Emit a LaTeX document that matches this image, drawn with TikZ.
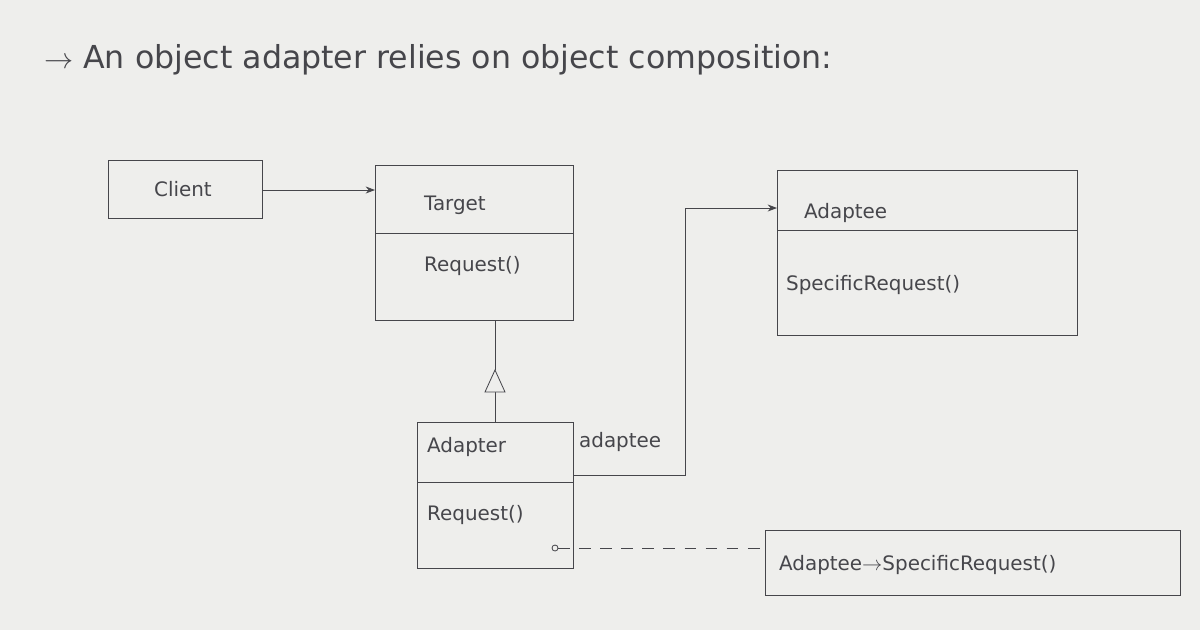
\documentclass[tikz,border=0pt]{standalone}
\usepackage{fontspec}
\setmainfont{DejaVu Sans}
\usetikzlibrary{arrows.meta}
\definecolor{paper}{RGB}{238,238,236}
\definecolor{ink}{RGB}{70,70,75}
\begin{document}
\begin{tikzpicture}[x=0.03cm,y=-0.03cm,
  box/.style={draw=ink,line width=0.8pt},
  lbl/.style={text=ink,font=\fontsize{17}{20}\selectfont,anchor=west},
  conn/.style={draw=ink,line width=0.7pt}]
\fill[paper] (0,0) rectangle (1200,630);
\useasboundingbox (0,0) rectangle (1200,630);
\node[lbl,font=\fontsize{27}{30}\selectfont] (title) at (40,60) {$\rightarrow$ An object adapter relies on object composition:};
% Client
\draw[box] (108,160) rectangle (262,218);
\node[lbl] (client) at (150,189) {Client};
\coordinate (clientR) at (262,190);
% Target
\draw[box] (375,165) rectangle (573,320);
\draw[box] (375,233) -- (573,233);
\node[lbl] (target) at (420,205) {Target};
\node[lbl] (treq) at (420,266) {Request()};
\coordinate (targetL) at (375,190);
\coordinate (targetB) at (495,320);
% Adaptee
\draw[box] (777,170) rectangle (1077,335);
\draw[box] (777,230) -- (1077,230);
\node[lbl] (adaptee) at (800,213) {Adaptee};
\node[lbl] (sreq) at (782,285) {SpecificRequest()};
\coordinate (adapteeL) at (777,208);
% Adapter
\draw[box] (417,422) rectangle (573,568);
\draw[box] (417,482) -- (573,482);
\node[lbl] (adapter) at (423,447) {Adapter};
\node[lbl] (areq) at (423,515) {Request()};
\coordinate (adapterT) at (495,422);
\coordinate (adapterR) at (573,475);
\coordinate (adapterN) at (555,548);
% Note
\draw[box] (765,530) rectangle (1180,595);
\node[lbl] (note) at (775,565) {Adaptee$\rightarrow$SpecificRequest()};
\coordinate (noteL) at (765,548);
% connectors
\draw[conn,-{Stealth[length=8pt]}] (clientR) -- (targetL);
\draw[conn] (adapterT) -- (495,392);
\draw[conn,fill=paper] (485,392) -- (505,392) -- (495,370) -- cycle;
\draw[conn] (495,370) -- (targetB);
\draw[conn,-{Stealth[length=8pt]}] (adapterR) -- (685,475) -- (685,208) -- (adapteeL);
\node[lbl] (alab) at (575,442) {adaptee};
\draw[conn] (adapterN) circle (3);
\draw[conn,dash pattern=on 10pt off 8pt] (558,548) -- (noteL);
\end{tikzpicture}
\end{document}
